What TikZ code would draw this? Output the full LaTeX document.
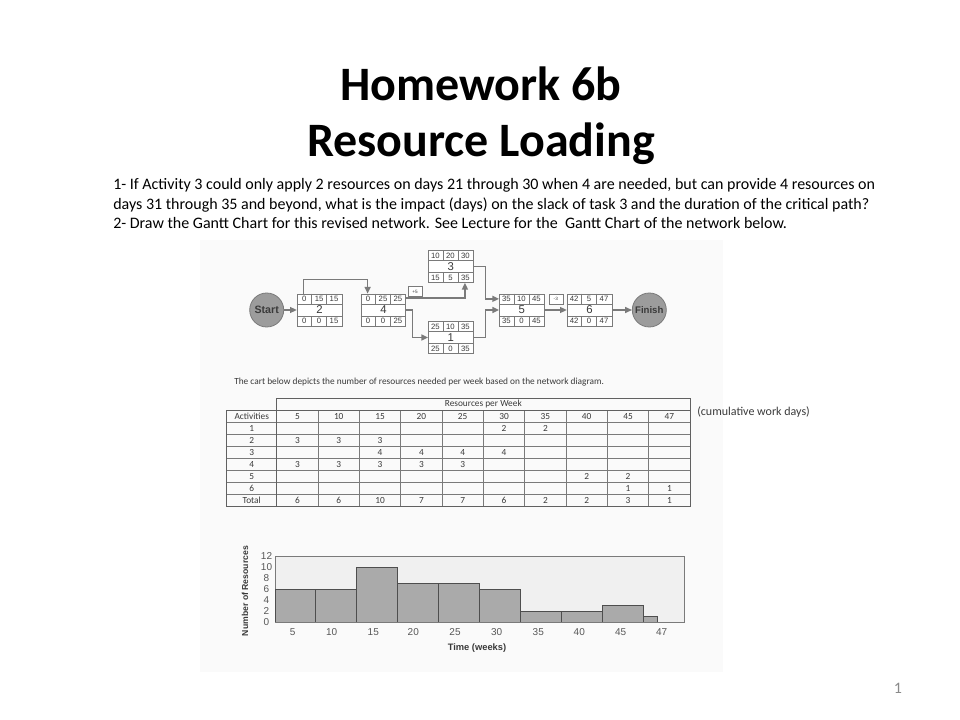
\documentclass[tikz,border=0pt]{standalone}
\usepackage{fontspec}
\setmainfont{Carlito}
\newfontfamily\arialf{Liberation Sans}
\usetikzlibrary{calc,arrows.meta}

\definecolor{scanbg}{HTML}{FAFAFA}
\definecolor{ink}{HTML}{3A3A3A}
\definecolor{linec}{HTML}{7A7A7A}
\definecolor{circf}{HTML}{9C9C9C}
\definecolor{barf}{HTML}{AAAAAA}
\definecolor{plotbg}{HTML}{F0F0F0}
\definecolor{pagenum}{HTML}{8A8A8A}

\tikzset{
  actnode/.style={draw=linec, line width=0.6pt, minimum width=33.6pt, minimum height=24pt, inner sep=0pt, fill=white},
  actline/.style={draw=linec, line width=0.5pt},
  corner/.style={font=\arialf\fontsize{5.8}{6.5}\selectfont, text=ink, inner sep=0pt},
  midnum/.style={font=\arialf\fontsize{8.5}{9}\selectfont, text=ink, inner sep=0pt},
  conn/.style={draw=linec, line width=1pt, -{Triangle[length=5pt,width=4.5pt]}},
  evt/.style={circle, draw=linec, line width=0.6pt, fill=circf, minimum size=25.5pt, inner sep=0pt, text=ink},
  tag/.style={draw=linec, line width=0.4pt, minimum width=10.5pt, minimum height=7.5pt, inner sep=0pt, font=\arialf\fontsize{3.5}{4}\selectfont, text=ink, fill=white},
  titletext/.style={font=\bfseries\fontsize{36}{43}\selectfont, inner sep=0pt, anchor=base},
  bodytext/.style={font=\fontsize{12}{14}\selectfont, inner sep=0pt, anchor=base west},
  smalltext/.style={font=\fontsize{7}{8}\selectfont, text=ink, inner sep=0pt, anchor=base west},
  tabtext/.style={font=\fontsize{7}{8}\selectfont, text=ink, inner sep=0pt},
  tabline/.style={draw=linec, line width=0.5pt},
  tabouter/.style={draw=ink!80, line width=0.7pt},
  axlabel/.style={font=\arialf\fontsize{7.5}{8}\selectfont, text=ink!85, inner sep=0pt},
  axtitle/.style={font=\arialf\bfseries\fontsize{6.5}{7}\selectfont, text=ink, inner sep=0pt},
  barstyle/.style={fill=barf, draw=ink!90, line width=0.7pt},
}

\newcommand{\actbox}[9]{%
  \node[actnode] (#1) at #2 {};
  \draw[actline] ([yshift=-7.875pt]#1.north west) -- ([yshift=-7.875pt]#1.north east);
  \draw[actline] ([yshift=7.875pt]#1.south west) -- ([yshift=7.875pt]#1.south east);
  \foreach \f in {1,2}{%
    \draw[actline] ([xshift=\f*11.2pt]#1.north west) -- ([xshift=\f*11.2pt,yshift=-7.875pt]#1.north west);
    \draw[actline] ([xshift=\f*11.2pt]#1.south west) -- ([xshift=\f*11.2pt,yshift=7.875pt]#1.south west);
  }
  \node[corner] (#1-es) at ([xshift=5.6pt,yshift=-3.94pt]#1.north west) {#3};
  \node[corner] (#1-du) at ([xshift=16.8pt,yshift=-3.94pt]#1.north west) {#4};
  \node[corner] (#1-ef) at ([xshift=28pt,yshift=-3.94pt]#1.north west) {#5};
  \node[midnum] (#1-id) at (#1.center) {#6};
  \node[corner] (#1-ls) at ([xshift=5.6pt,yshift=3.94pt]#1.south west) {#7};
  \node[corner] (#1-sl) at ([xshift=16.8pt,yshift=3.94pt]#1.south west) {#8};
  \node[corner] (#1-lf) at ([xshift=28pt,yshift=3.94pt]#1.south west) {#9};
}

\begin{document}
\begin{tikzpicture}[x=0.75pt,y=-0.75pt]
\useasboundingbox (0,0) rectangle (960,720);
\fill[white] (0,0) rectangle (960,720);

% titles
\node[titletext] (title1) at (481,101) {Homework 6b};
\node[titletext] (title2) at (481,157) {Resource Loading};

% question text
\node[bodytext] (q1) at (113,190) {1- If Activity 3 could only apply 2 resources on days 21 through 30 when 4 are needed, but can provide 4 resources on};
\node[bodytext] (q2) at (113,209.5) {days 31 through 35 and beyond, what is the impact (days) on the slack of task 3 and the duration of the critical path?};
\node[bodytext] (q3) at (113,229) {2- Draw the Gantt Chart for this revised network. See Lecture for the\ \ Gantt Chart of the network below.};

% scanned image area
\fill[scanbg] (200,240) rectangle (722.7,671.7);

% network
\node[evt, font=\arialf\bfseries\fontsize{8}{9}\selectfont] (start) at (266.7,310) {Start};
\node[evt, font=\arialf\bfseries\fontsize{7.2}{8}\selectfont] (finish) at (649.3,310) {Finish};

\actbox{n2}{(319.5,310)}{0}{15}{15}{2}{0}{0}{15}
\actbox{n4}{(383.4,310)}{0}{25}{25}{4}{0}{0}{25}
\actbox{n3}{(450.8,266.5)}{10}{20}{30}{3}{15}{5}{35}
\actbox{n1}{(450.8,337.5)}{25}{10}{35}{1}{25}{0}{35}
\actbox{n5}{(521.8,310)}{35}{10}{45}{5}{35}{0}{45}
\actbox{n6}{(589.5,310)}{42}{5}{47}{6}{42}{0}{47}

\draw[conn] (start) -- (n2);
\draw[conn] ([xshift=5.25pt]n2.north west) -- ++(0,-14) -| ([xshift=5.25pt]n4.north west);
\draw[conn] ([yshift=-3.4pt]n4.north east) -| ([xshift=-6.5pt]n3.south east);
\draw[conn] (n4.east) -- ++(6,0) |- (n1.west);
\draw[conn] (n3.east) -- ++(12,0) |- ([yshift=-3.94pt]n5.north west);
\draw[conn] (n1.east) -- ++(12,0) |- (n5.west);
\draw[conn] (n5) -- (n6);
\draw[conn] (n6) -- (finish);

\node[tag] (lag1) at (415,291.7) {+5};
\node[tag] (lag2) at (555.8,299.3) {-3};

% caption
\node[smalltext] (cap) at (234,384) {The cart below depicts the number of resources needed per week based on the network diagram.};

% table
\draw[tabouter] (276.7,398) rectangle (690,410.5);
\node[tabtext] (hdr) at (483.3,404.5) {Resources per Week};
\foreach \r in {1,...,7}{
  \draw[tabline] (226.7,410.5+11.94*\r) -- (690,410.5+11.94*\r);
}
\foreach \c in {1,...,9}{
  \draw[tabline] (276.7+41.33*\c,410.5) -- (276.7+41.33*\c,506);
}
\draw[tabouter] (276.7,410.5) -- (276.7,506);
\draw[tabouter] (226.7,410.5) rectangle (690,506);
\foreach \r/\t in {0/Activities,1/1,2/2,3/3,4/4,5/5,6/6,7/Total}{
  \node[tabtext] (rl-\r) at (251.7,410.5+11.94*\r+6) {\t};
}
\foreach \c/\t in {0/5,1/10,2/15,3/20,4/25,5/30,6/35,7/40,8/45,9/47}{
  \node[tabtext] (ch-\c) at (297.4+41.33*\c,410.5+6) {\t};
}
\foreach \r/\c/\v in {1/5/2,1/6/2,
  2/0/3,2/1/3,2/2/3,
  3/2/4,3/3/4,3/4/4,3/5/4,
  4/0/3,4/1/3,4/2/3,4/3/3,4/4/3,
  5/7/2,5/8/2,
  6/8/1,6/9/1,
  7/0/6,7/1/6,7/2/10,7/3/7,7/4/7,7/5/6,7/6/2,7/7/2,7/8/3,7/9/1}{
  \node[tabtext] (cell-\r-\c) at (297.4+41.33*\c,410.5+11.94*\r+6) {\v};
}
\node[font=\fontsize{9}{10}\selectfont, text=ink, inner sep=0pt, anchor=base west] (cum) at (697,415) {(cumulative work days)};

% chart
\draw[fill=plotbg, draw=linec, line width=0.7pt] (275,556) rectangle (684,622.3);
\foreach \v [count=\i from 0] in {6,6,10,7,7,6,2,2,3}{
  \draw[barstyle] (275+40.9*\i,622.3) rectangle (275+40.9*\i+40.9,622.3-5.525*\v);
}
\draw[barstyle] (643.1,622.3) rectangle (657.6,622.3-5.525);
\draw[draw=linec, line width=0.7pt] (275,622.3) -- (684,622.3);
\foreach \t in {0,2,...,12}{
  \node[axlabel] (yl-\t) at (266.5,622.3-5.525*\t) {\t};
}
\foreach \x/\t in {292.7/5,331.7/10,373.3/15,413.3/20,455/25,496.7/30,538.3/35,579.3/40,620.7/45,661.7/47}{
  \node[axlabel] (xl-\t) at (\x,632) {\t};
}
\node[axtitle, rotate=90] (ytitle) at (245,591) {Number of Resources};
\node[axtitle, font=\arialf\bfseries\fontsize{7}{8}\selectfont] (xtitle) at (477,648) {Time (weeks)};

% page number
\node[font=\fontsize{12}{14}\selectfont, text=pagenum, inner sep=0pt] (pg) at (898,688) {1};
\end{tikzpicture}
\end{document}
